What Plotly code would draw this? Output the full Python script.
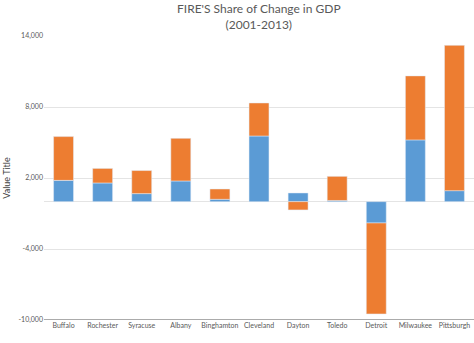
import plotly.graph_objects as go

cities = ["Buffalo", "Rochester", "Syracuse", "Albany", "Binghamton", "Cleveland",
          "Dayton", "Toledo", "Detroit", "Milwaukee", "Pittsburgh"]
fire = [1800, 1580, 680, 1750, 200, 5550, 735, 100, -1800, 5220, 930]
other = [3700, 1230, 1950, 3600, 870, 2790, -700, 2040, -7690, 5410, 12280]
tick_vals = [14000, 8000, 2000, -4000, -10000]
tick_text = ["14,000", "8,000", "2,000", "-4,000", "-10,000"]

fig = go.Figure()
fig.add_trace(go.Bar(x=cities, y=fire, marker_color="#5B9BD5", name="FIRE"))
fig.add_trace(go.Bar(x=cities, y=other, marker_color="#ED7D31", name="Other"))

fig.update_layout(
    barmode="relative",
    bargap=0.49,
    width=474, height=343,
    margin=dict(l=44, r=0, t=36, b=23),
    plot_bgcolor="white", paper_bgcolor="white",
    showlegend=False,
    font=dict(family="Lato, sans-serif", color="#595959"),
)
fig.add_annotation(text="FIRE'S Share of Change in GDP<br>(2001-2013)",
                   xref="paper", yref="paper", x=0.5, y=1.008,
                   xanchor="center", yanchor="bottom", showarrow=False,
                   font=dict(size=12, color="#595959"))
fig.update_yaxes(range=[-10000, 14000], tickvals=tick_vals, ticktext=tick_text,
                 showgrid=True, gridcolor="#E4E4E4", gridwidth=1,
                 zeroline=True, zerolinecolor="#E4E4E4", zerolinewidth=1,
                 tickfont=dict(size=7, color="#595959"), ticklen=0,
                 title=dict(text="Value Title", font=dict(size=9, color="#404040"), standoff=6))
fig.update_xaxes(showline=False, tickfont=dict(size=7, color="#595959"), ticklen=0)
fig.add_shape(type="line", xref="paper", yref="y", x0=0, x1=1, y0=-10000, y1=-10000,
              line=dict(color="#595959", width=1.2))

fig.write_html("out.html")
